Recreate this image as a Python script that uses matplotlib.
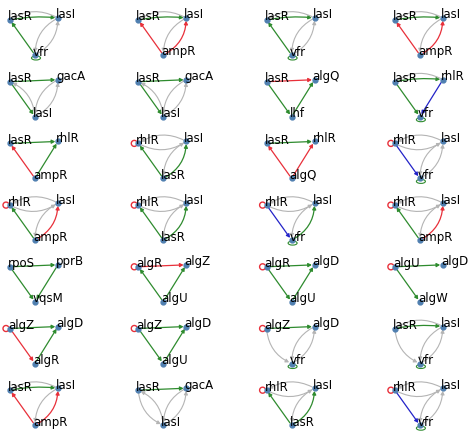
import matplotlib.pyplot as plt
from matplotlib.patches import FancyArrowPatch, Ellipse, Arc

# node names per motif (A = top left, B = top right, C = bottom)
names = [
    ("lasR", "lasI", "vfr"), ("lasR", "lasI", "ampR"), ("lasR", "lasI", "vfr"), ("lasR", "lasI", "ampR"),
    ("lasR", "gacA", "lasI"), ("lasR", "gacA", "lasI"), ("lasR", "algQ", "lhf"), ("lasR", "rhlR", "vfr"),
    ("lasR", "rhlR", "ampR"), ("rhlR", "lasI", "lasR"), ("lasR", "rhlR", "algQ"), ("rhlR", "lasI", "vfr"),
    ("rhlR", "lasI", "ampR"), ("rhlR", "lasI", "lasR"), ("rhlR", "lasI", "vfr"), ("rhlR", "lasI", "ampR"),
    ("rpoS", "pprB", "vqsM"), ("algR", "algZ", "algU"), ("algR", "algD", "algU"), ("algU", "algD", "algW"),
    ("algZ", "algD", "algR"), ("algZ", "algD", "algU"), ("algZ", "algD", "vfr"), ("lasR", "lasI", "vfr"),
    ("lasR", "lasI", "ampR"), ("lasR", "gacA", "lasI"), ("rhlR", "lasI", "lasR"), ("rhlR", "lasI", "vfr"),
]

# edges: "XY c" directed edge, "X c" self loop; c: g/r/b, k = grey arc
edges = [
    "AB g|BA k|BC k|CB k|CA g|C g", "AB g|BA k|CA r|CB r|BC k", "AB g|BA k|CA g|BC k|CB k|C g", "AB g|BA k|CA r|CB r|BC k",
    "AB g|AC g|CA k|BC k|CB k", "AB g|AC g|CA k|BC k|CB k", "AB r|AC g|CB g", "AB g|BA k|BC b|AC g|C g",
    "AB g|CA r|CB g", "A r|AB k|BA k|CA g|CB g|BC k", "AB g|CA r|CB r", "A r|AB k|BA k|AC b|BC k|CB k|C g",
    "A r|AB k|BA k|CA g|CB r|BC k", "A r|AB k|BA k|CA g|CB g|BC k", "A r|AB k|BA k|AC b|CB g|BC k|C g", "A r|AB k|BA k|CA g|CB r|BC k",
    "AB g|AC g|BC g", "A r|AB r|CA g|CB g", "A r|AB g|AC g|CB g", "A r|AB g|AC g",
    "A r|AB g|AC r|CB g", "A r|AB g|AC g|CB g", "A r|AB g|AC k|BC k|CB k|C g", "AB g|BA k|BC k|CB k|AC k|C g",
    "AB g|BA k|CA r|CB r|BC k", "AB g|AC k|CA k|BC k|CB k", "A r|AB k|BA k|CA g|CB g|BC k", "A r|AB k|BA k|AC b|BC k|CB k|C g",
]

colors = {"g": "#2e8b2e", "r": "#e8303a", "b": "#2323c8", "k": "#b4b4b4"}
offsets = {"A": (10, 20), "B": (58, 18), "C": (35, 55)}

fig = plt.figure(figsize=(4.74, 4.38), dpi=100)
ax = fig.add_axes([0, 0, 1, 1])
ax.set_xlim(0, 474)
ax.set_ylim(438, 0)
ax.axis("off")

for i, (nm, es) in enumerate(zip(names, edges)):
    r, c = divmod(i, 4)
    x0, y0 = 128.3 * c, 61.7 * r
    pos = {k: (x0 + dx, y0 + dy) for k, (dx, dy) in offsets.items()}
    for e in es.split("|"):
        key, col = e.split()
        if len(key) == 1:
            x, y = pos[key]
            if key == "C":
                loop = Ellipse((x + 1, y + 3), 9, 4, fill=False, ec=colors[col], lw=0.8)
            else:
                loop = Arc((x - 4, y), 6, 6, theta1=30, theta2=330, ec=colors[col], lw=1.0)
            ax.add_patch(loop)
            continue
        p, q = pos[key[0]], pos[key[1]]
        if col == "k":
            rad = 0.3
        elif set(key) == {"A", "B"}:
            rad = -0.08 if "BA k" in es else 0.0
        elif key == "CB" and "BA k" in es:
            rad = 0.3
        else:
            rad = 0.0
        lw = 0.8 if col == "k" else 0.9
        arr = FancyArrowPatch(p, q, connectionstyle=f"arc3,rad={rad}", arrowstyle="-|>,head_length=2,head_width=1.1",
                              color=colors[col], lw=lw, shrinkA=2, shrinkB=2)
        ax.add_patch(arr)
    for k, (x, y) in pos.items():
        ax.plot(x, y, "o", ms=3.5, color="#4f7fb0", zorder=5)
        ax.text(x - 2, y - 3, nm["ABC".index(k)], fontsize=8.5, ha="left", va="center", zorder=6)

fig.savefig("out.png", dpi=100)
